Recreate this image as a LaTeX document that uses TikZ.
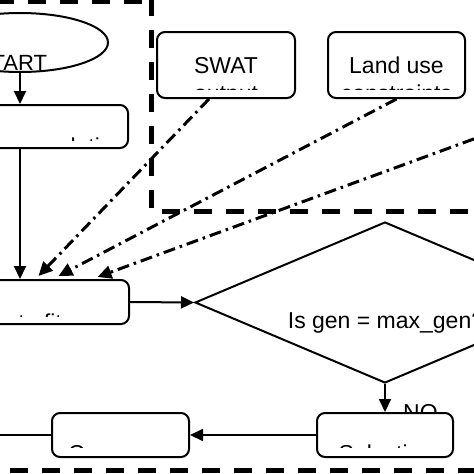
\documentclass[tikz,border=0pt]{standalone}
\usepackage{fontspec}
\setmainfont{Liberation Sans}
\usetikzlibrary{arrows.meta,shapes.geometric,calc}
\begin{document}
\begin{tikzpicture}[x=1pt,y=-1pt,
  every node/.style={font=\fontsize{23}{27}\selectfont},
  boxnode/.style={draw,line width=2pt,rounded corners=8pt,fill=white,inner sep=0pt},
  lbl/.style={inner sep=0pt,anchor=base},
  arrowline/.style={line width=2pt,-{Triangle[length=13pt,width=12pt]}},
  plainline/.style={line width=2pt},
  dashdotline/.style={line width=3pt,dash pattern=on 12pt off 5pt on 2.5pt off 5pt,-{Triangle[length=14pt,width=13pt]}},
  regionline/.style={line width=5pt,dash pattern=on 18pt off 14pt}]
\useasboundingbox (0,0) rectangle (474,474);
\clip (0,0) rectangle (474,474);
% dashed regions
\draw[regionline] (-4,1) -- (151,1);
\draw[regionline] (151,-2) -- (151,211) -- (480,211);
\draw[regionline] (10,470) -- (480,470);
% NO label (partly hidden by the box)
\node[lbl,anchor=base west] (nolbl) at (403,420) {NO};
% nodes
\node[ellipse,draw,line width=2pt,minimum width=176pt,minimum height=59pt,inner sep=0pt] (start) at (20,42.5) {};
\node[lbl,font=\fontsize{22}{26}\selectfont] (starttxt) at (12,70) {START};
\node[boxnode,minimum width=196pt,minimum height=43pt] (box1) at (30,126.5) {};
\node[boxnode,minimum width=197pt,minimum height=44pt] (box3) at (30.5,302) {};
\node[boxnode,minimum width=137pt,minimum height=44pt] (cross) at (120.5,435) {};
\node[boxnode,minimum width=136pt,minimum height=44pt] (sel) at (385,435) {};
\node[boxnode,minimum width=138pt,minimum height=66pt] (swat) at (226,65) {};
\node[boxnode,minimum width=137pt,minimum height=66pt] (land) at (396.5,65) {};
\node[diamond,draw,line width=2pt,minimum width=380pt,minimum height=161pt,inner sep=0pt] (dec) at (385,302.5) {};
\node[lbl] (dectxt) at (386,328) {Is gen = max\_gen?};
% clipped texts
\begin{scope}\clip (-70,107) rectangle (127,140);
\node[lbl] (t1) at (27.8,154) {Initialize population};\end{scope}
\begin{scope}\clip (-70,282) rectangle (128,316);
\node[lbl] (t3) at (29.2,330) {Evaluate fitness};\end{scope}
\begin{scope}\clip (53,415) rectangle (188,447);
\node[lbl] (tc) at (120.5,461) {Crossover};\end{scope}
\begin{scope}\clip (318,415) rectangle (452,447);
\node[lbl] (ts) at (386,461) {Selection};\end{scope}
\begin{scope}\clip (158,34) rectangle (294,89);
\node[lbl] (tsw1) at (226,73) {SWAT};
\node[lbl] (tsw2) at (226,101) {output};\end{scope}
\begin{scope}\clip (329,34) rectangle (464,89);
\node[lbl] (tl1) at (396.5,73) {Land use};
\node[lbl] (tl2) at (396.5,101) {constraints};\end{scope}
% connectors
\coordinate (ext) at (520,122);
\coordinate (leftend) at (-5,435);
\draw[arrowline] (start.south) -- (start.south |- box1.north);
\draw[arrowline] (start.south |- box1.south) -- (start.south |- box3.north);
\draw[arrowline] (box3.east) -- (dec.west);
\draw[arrowline] (dec.south) -- (sel.north);
\draw[arrowline] (sel.west) -- (cross.east);
\draw[plainline] (cross.west) -- (leftend);
\draw[dashdotline] ($(swat.south)+(-17,0)$) -- ($(box3.north)+(8,-3)$);
\draw[dashdotline] (land.south) -- ($(box3.north)+(28,-3)$);
\draw[dashdotline] (ext) -- ($(box3.north)+(67,-2)$);
\end{tikzpicture}
\end{document}
